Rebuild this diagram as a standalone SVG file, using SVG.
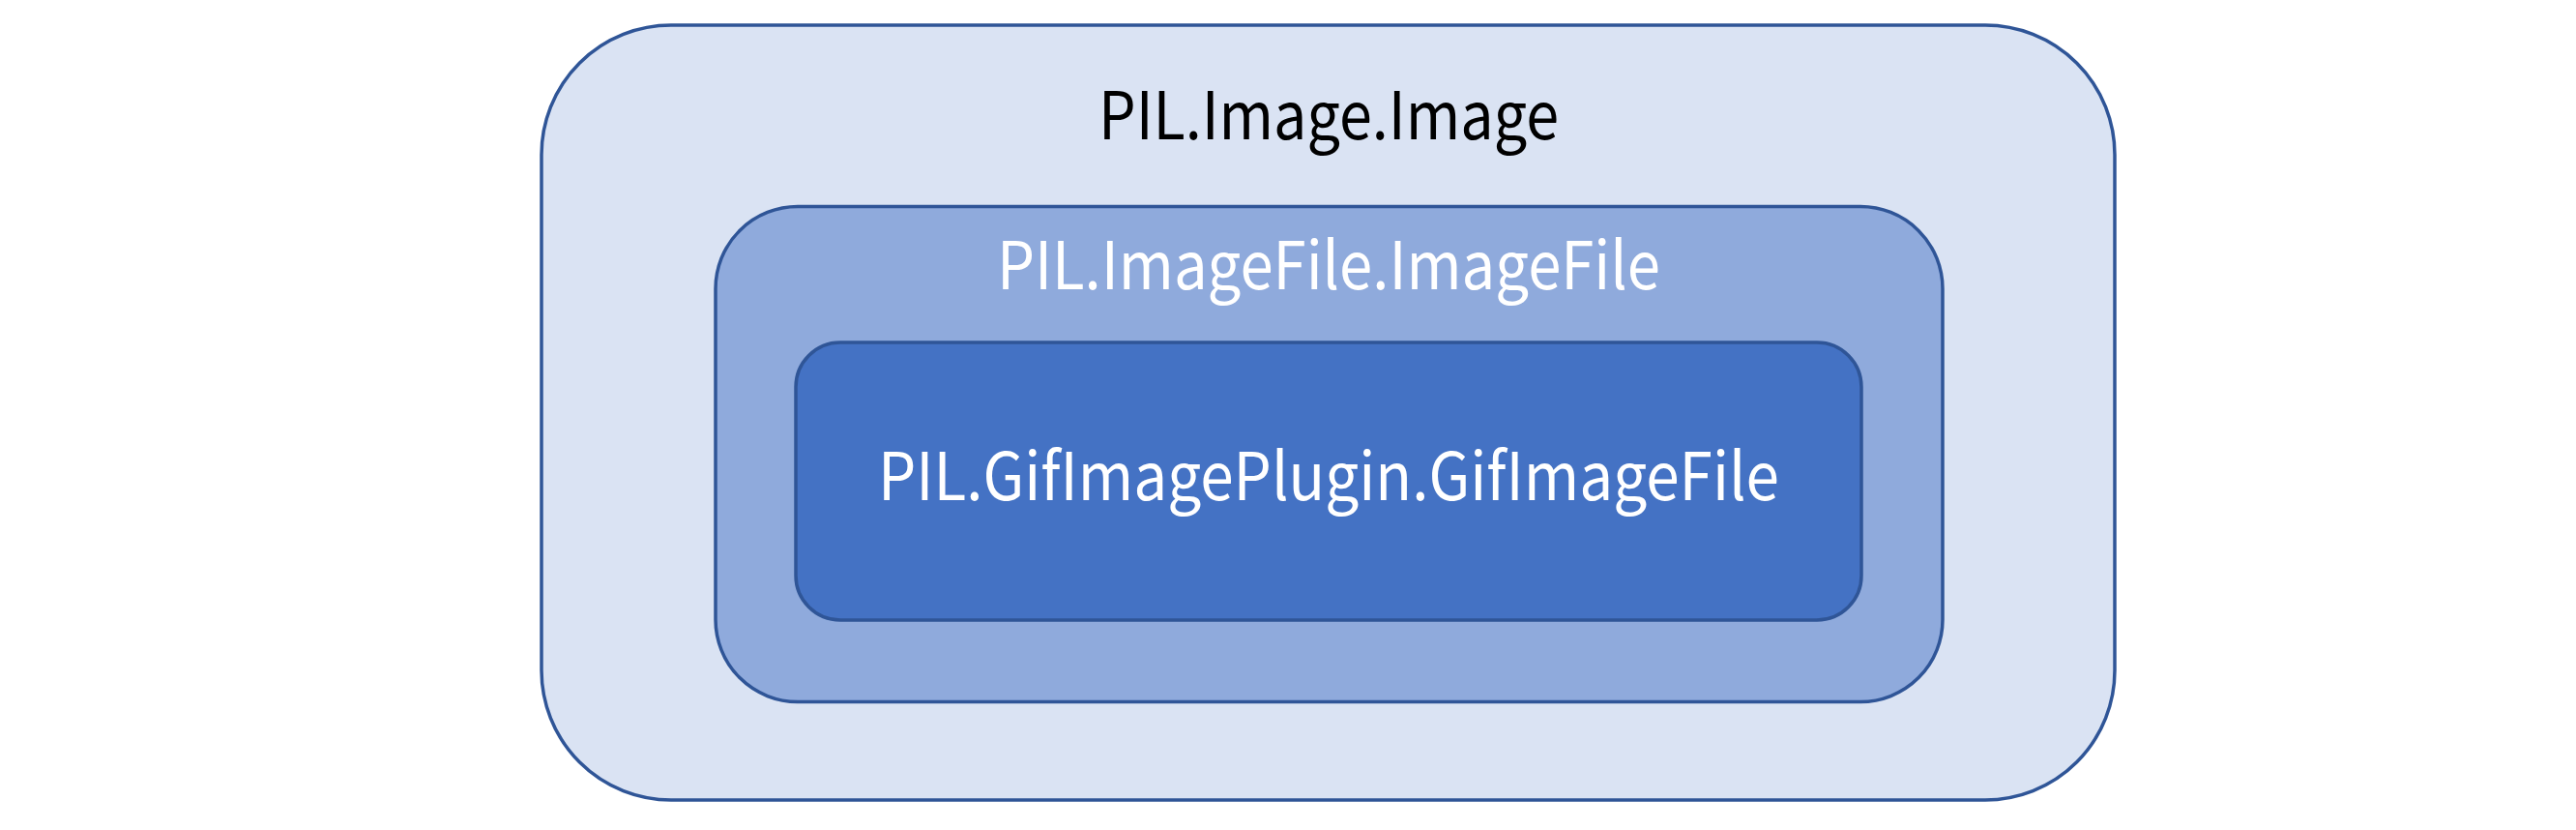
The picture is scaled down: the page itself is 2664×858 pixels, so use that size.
<svg xmlns="http://www.w3.org/2000/svg" width="2664" height="858" viewBox="0 0 2664 858">
<style>
.box{stroke:#2F5597;stroke-width:3.5}
.lbl{font-family:"Noto Sans CJK JP","Liberation Sans",sans-serif;font-size:68px;text-anchor:middle}
</style>
<rect width="2664" height="858" fill="#FFFFFF"/>
<g id="node-image">
<rect class="box" x="560" y="26" width="1627" height="801" rx="134" ry="134" fill="#DAE3F3"/>
<text class="lbl" x="1374" y="144" fill="#000000" textLength="476" lengthAdjust="spacingAndGlyphs">PIL.Image.Image</text>
</g>
<g id="node-imagefile">
<rect class="box" x="740" y="213.5" width="1269" height="512" rx="85" ry="85" fill="#8FAADC"/>
<text class="lbl" x="1374" y="299" fill="#FFFFFF" textLength="686" lengthAdjust="spacingAndGlyphs">PIL.ImageFile.ImageFile</text>
</g>
<g id="node-gifimagefile">
<rect class="box" x="823" y="354" width="1102" height="287" rx="46" ry="46" fill="#4472C4"/>
<text class="lbl" x="1374" y="517" fill="#FFFFFF" textLength="932" lengthAdjust="spacingAndGlyphs">PIL.GifImagePlugin.GifImageFile</text>
</g>
<g id="connectors"></g>
</svg>
